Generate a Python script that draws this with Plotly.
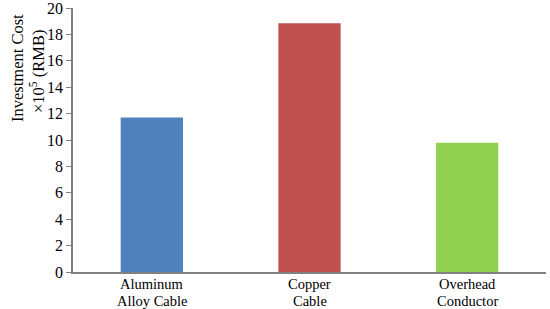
import plotly.graph_objects as go

categories = ["Aluminum<br>Alloy Cable", "Copper<br>Cable", "Overhead<br>Conductor"]
values = [11.7, 18.85, 9.8]
colors = ["#4F81BD", "#C0504D", "#92D050"]
y_ticks = [0, 2, 4, 6, 8, 10, 12, 14, 16, 18, 20]
y_title_lines = ["Investment Cost", "×10<sup>5</sup> (RMB)"]

font = "Liberation Serif, Times New Roman, serif"

fig = go.Figure(go.Bar(x=categories, y=values, marker=dict(color=colors, line=dict(width=0)), width=0.395))

annotations = []
for cat in categories:
    for i, line in enumerate(cat.split("<br>")):
        annotations.append(dict(
            x=cat, xref="x", y=0, yref="paper", yanchor="middle", xanchor="center",
            yshift=-12 - 17 * i, text=line, showarrow=False,
            font=dict(family=font, size=14.5, color="black"),
        ))
for i, line in enumerate(y_title_lines):
    annotations.append(dict(
        x=0, xref="paper", xshift=-56 + 20 * i, y=1, yref="paper", yshift=-60 - 4 * i,
        xanchor="center", yanchor="middle", textangle=-90, text=line, showarrow=False,
        font=dict(family=font, size=16.5, color="black"),
    ))

fig.update_layout(
    width=550, height=309,
    margin=dict(l=73, r=4, t=8, b=37),
    plot_bgcolor="white", paper_bgcolor="white",
    font=dict(family=font, size=15, color="black"),
    showlegend=False,
    annotations=annotations,
)
fig.update_xaxes(
    showline=True, linecolor="#808080", linewidth=1.5,
    ticks="", showgrid=False, showticklabels=False, automargin=False,
)
fig.update_yaxes(
    range=[0, 20], tickvals=y_ticks, showline=True, linecolor="#808080", linewidth=1.5,
    ticks="outside", ticklen=5, tickcolor="#808080", tickwidth=1,
    showgrid=False, zeroline=False, tickfont=dict(size=16), automargin=False,
    ticklabeloverflow="allow",
)
fig.write_html("out.html", config={"displayModeBar": False},
               post_script="document.body.style.margin='0';")
